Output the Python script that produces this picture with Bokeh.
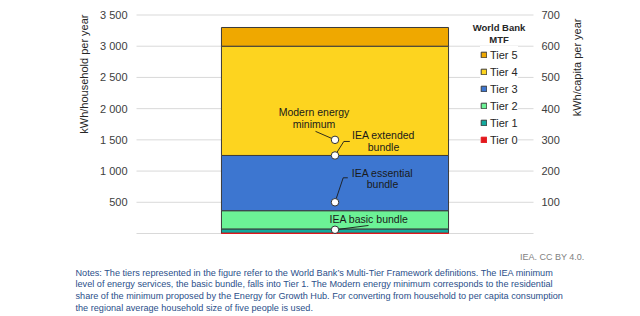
import math
from bokeh.plotting import figure
from bokeh.models import (Range1d, LinearAxis, FixedTicker, Legend, LegendItem, Label)
from bokeh.core.properties import value
from bokeh.embed import file_html
from bokeh.resources import INLINE

# ---------------- data ----------------
tiers = ["Tier 0", "Tier 1", "Tier 2", "Tier 3", "Tier 4", "Tier 5"]
tier_bottom = [0, 4.5, 73, 365, 1250, 3000]
tier_top = [4.5, 73, 365, 1250, 3000, 3300]
tier_colors = ["#E3171C", "#12A99D", "#6CF296", "#3D76D0", "#FDD41F", "#EFA800"]

marker_names = ["Modern energy minimum", "IEA extended bundle", "IEA essential bundle", "IEA basic bundle"]
marker_values = [1500, 1250, 500, 60]

left_ticks = [0, 500, 1000, 1500, 2000, 2500, 3000, 3500]
left_tick_labels = ["", "500", "1 000", "1 500", "2 000", "2 500", "3 000", "3 500"]
right_ticks = [100, 200, 300, 400, 500, 600, 700]
right_tick_labels = ["100", "200", "300", "400", "500", "600", "700"]
household_size = 5

credit = "IEA. CC BY 4.0."
notes = [
    "Notes: The tiers represented in the figure refer to the World Bank\u2019s Multi-Tier Framework definitions. The IEA minimum",
    "level of energy services, the basic bundle, falls into Tier 1. The Modern energy minimum corresponds to the residential",
    "share of the minimum proposed by the Energy for Growth Hub. For converting from household to per capita consumption",
    "the regional average household size of five people is used.",
]

FONT = "Liberation Sans"

# ---------------- geometry (chart area inside a full-canvas frame) ----------------
W, H = 640, 316
CL, CR = 136, 533          # chart area left/right, canvas px
C0, C3500 = 233.0, 14.5    # canvas y of value 0 and 3500
K = 3500 / (C0 - C3500)    # data units per px

def xd(px):
    return (px - CL) / (CR - CL)

def yd(py):
    return (C0 - py) * K

def ypx(v):
    return C0 - v / K

p = figure(width=W, height=H, output_backend="svg", toolbar_location=None,
           x_range=Range1d(xd(0), xd(W)), y_range=Range1d(yd(H), yd(0)),
           x_axis_location=None, y_axis_location=None,
           min_border=0, min_border_left=0, min_border_right=0,
           min_border_top=0, min_border_bottom=0)
p.outline_line_color = None
p.background_fill_color = "white"
p.border_fill_color = "white"
p.xgrid.grid_line_color = None
p.ygrid.grid_line_color = None

# horizontal gridlines across the chart area only
p.segment(x0=[0] * len(left_ticks), x1=[1] * len(left_ticks), y0=left_ticks, y1=left_ticks,
          line_color="#D9D9D9", line_width=1)

def style_axis(a, standoff):
    a.axis_line_color = None
    a.major_tick_line_color = None
    a.minor_tick_line_color = None
    a.major_tick_out = 0
    a.major_tick_in = 0
    a.minor_tick_out = 0
    a.minor_tick_in = 0
    a.major_label_standoff = standoff
    a.major_label_text_font = FONT
    a.major_label_text_font_size = "11px"
    a.major_label_text_color = "#404040"

lax = LinearAxis(ticker=FixedTicker(ticks=left_ticks), fixed_location=0, bounds=(0, 3500))
lax.major_label_overrides = {t: l for t, l in zip(left_ticks, left_tick_labels)}
style_axis(lax, 9)
p.add_layout(lax, "left")

p.extra_y_ranges = {"cap": Range1d(yd(H) / household_size, yd(0) / household_size)}
rax = LinearAxis(y_range_name="cap", ticker=FixedTicker(ticks=right_ticks), fixed_location=1,
                 bounds=(0, 700))
rax.major_label_overrides = {t: l for t, l in zip(right_ticks, right_tick_labels)}
style_axis(rax, 8)
p.add_layout(rax, "right")

# axis titles
p.add_layout(Label(x=xd(83), y=yd(14), text="kWh/household per year", angle=math.pi / 2,
                   text_align="right", text_baseline="middle", text_font=FONT,
                   text_font_size="11px", text_color="#262626"))
p.add_layout(Label(x=xd(576), y=yd(18), text="kWh/capita per year", angle=math.pi / 2,
                   text_align="right", text_baseline="middle", text_font=FONT,
                   text_font_size="11px", text_color="#262626"))

# bars
renderers = {}
order = [1, 2, 3, 4, 5, 0]
for i in order:
    lc = tier_colors[0] if i == 0 else "#3a3a3a"
    r = p.vbar(x=[0.5], width=0.572, bottom=[tier_bottom[i]], top=[tier_top[i]],
               fill_color=tier_colors[i], line_color=lc, line_width=1)
    renderers[i] = r

# legend
items = [LegendItem(label=tiers[i], renderers=[renderers[i]]) for i in [5, 4, 3, 2, 1, 0]]
leg = Legend(items=items, location=(480, 168), padding=4, spacing=0,
             label_height=17, glyph_width=7, glyph_height=7, label_standoff=3,
             label_text_font=FONT, label_text_font_size="11px", label_text_color="#262626",
             background_fill_color="white", background_fill_alpha=1.0,
             border_line_color=None, margin=0)
p.add_layout(leg)

for txt, py in [("World Bank", 27.3), ("MTF", 39.3)]:
    p.add_layout(Label(x=xd(498.5), y=yd(py), text=txt, text_align="center",
                       text_baseline="middle", text_font=FONT, text_font_size="9.5px",
                       text_font_style="bold", text_color="#262626"))

# annotations: (leader points offsets, text offsets) in pixels relative to marker
ann = [
    ([(0, 0), (-19.5, -8.5)], [("Modern energy", -21, -27.4), ("minimum", -21, -15.4)]),
    ([(0, 0), (8.8, -14), (14.8, -14)], [("IEA extended", 48.5, -20), ("bundle", 48.5, -8)]),
    ([(0, 0), (8.2, -24.5), (12.8, -24.5)], [("IEA essential", 47.5, -29), ("bundle", 47.5, -17.8)]),
    ([(0, 0), (33.5, -4.3)], [("IEA basic bundle", 34, -10.3)]),
]
mx_px = CL + 0.5 * (CR - CL)
for v, (pts, texts) in zip(marker_values, ann):
    my_px = ypx(v)
    p.line([xd(mx_px + dx) for dx, dy in pts], [yd(my_px + dy) for dx, dy in pts],
           line_color="#1a1a1a", line_width=0.9)
    for t, dx, dy in texts:
        p.add_layout(Label(x=xd(mx_px + dx), y=yd(my_px + dy), text=t, text_align="center",
                           text_baseline="middle", text_font=FONT, text_font_size="10.5px",
                           text_color="#1a1a1a"))
p.scatter(x=[0.5] * len(marker_values), y=marker_values, size=7.5, marker="circle",
          fill_color="white", line_color="#333333", line_width=1)

# source and notes
p.text(x=[xd(584)], y=[yd(256)], text=[credit], text_align="right", text_baseline="middle",
       text_font=value(FONT), text_font_size="9px", text_color="#7F7F7F")
p.text(x=[xd(75)] * len(notes), y=[yd(272 + 11.7 * k) for k in range(len(notes))], text=notes,
       text_align="left", text_baseline="middle", text_font=value(FONT),
       text_font_size="9.15px", text_color="#2B4F8A")

open("out.html", "w").write(file_html(p, INLINE))
